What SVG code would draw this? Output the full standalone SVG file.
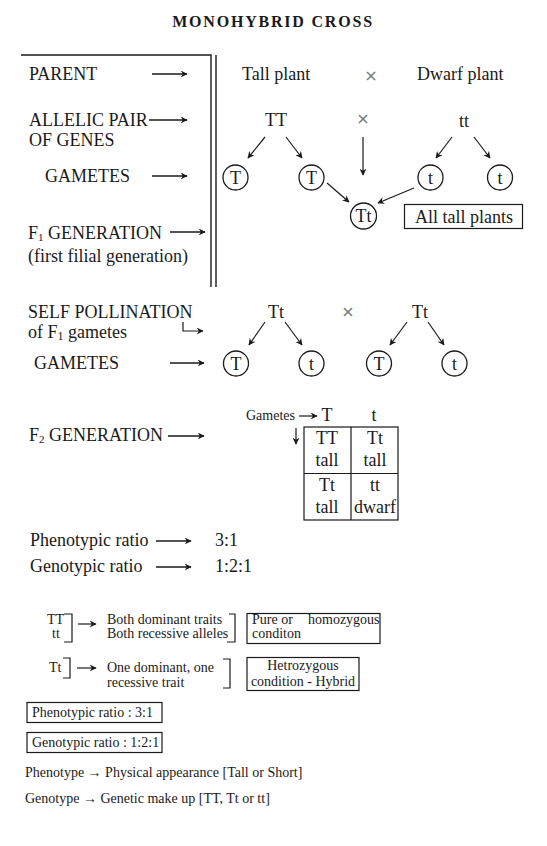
<svg xmlns="http://www.w3.org/2000/svg" width="547" height="846" viewBox="0 0 547 846">
<style>
text{font-family:"Liberation Serif","Times New Roman",serif;fill:#1a1a1a}
.t{font-size:18px}
.s{font-size:14px}
.m{font-size:16px}
.c{text-anchor:middle}
.ln{stroke:#1a1a1a;stroke-width:1.4;fill:none}
.ar{stroke:#1a1a1a;stroke-width:1.5;fill:none;marker-end:url(#ah)}
.ars{stroke:#1a1a1a;stroke-width:1.2;fill:none;marker-end:url(#ah)}
.bx{stroke:#1a1a1a;stroke-width:1.2;fill:none}
.cir{stroke:#1a1a1a;stroke-width:1.3;fill:#fff}
.x{fill:#777;font-size:16px;font-family:"DejaVu Sans",sans-serif}
</style>
<defs>
<marker id="ah" viewBox="0 0 10 10" refX="9" refY="5" markerWidth="7" markerHeight="7" markerUnits="userSpaceOnUse" orient="auto">
<path d="M0,0 L10,5 L0,10 L3,5 z" fill="#1a1a1a"/>
</marker>
</defs>

<text x="273" y="27" class="c" style="font-size:16px;font-weight:bold;letter-spacing:1.8px">MONOHYBRID CROSS</text>

<g id="frame">
<path class="ln" d="M21,55 H211 V287"/>
<path class="ln" d="M216,55 V287"/>
</g>

<g id="labels">
<text x="29" y="80" class="t">PARENT</text>
<text x="29" y="126" class="t">ALLELIC PAIR</text>
<text x="29" y="146" class="t">OF GENES</text>
<text x="45" y="182" class="t">GAMETES</text>
<text x="28" y="239" class="t">F<tspan font-size="11" dy="2">1</tspan><tspan dy="-2"> GENERATION</tspan></text>
<text x="28" y="262" class="t">(first filial generation)</text>
<text x="28" y="318" class="t">SELF POLLINATION</text>
<text x="28" y="338" class="t">of F<tspan font-size="12" dy="2">1</tspan><tspan dy="-2"> gametes</tspan></text>
<text x="34" y="369" class="t">GAMETES</text>
<text x="29" y="441" class="t">F<tspan font-size="11" dy="2">2</tspan><tspan dy="-2"> GENERATION</tspan></text>
<text x="30" y="546" class="t">Phenotypic ratio</text>
<text x="30" y="572" class="t">Genotypic ratio</text>
<text x="215" y="546" class="t">3:1</text>
<text x="215" y="572" class="t">1:2:1</text>
</g>

<g id="parents">
<text x="242" y="80" class="t">Tall plant</text>
<text x="371" y="81" class="x c">×</text>
<text x="417" y="80" class="t">Dwarf plant</text>
<text x="276" y="126" class="t c">TT</text>
<text x="363" y="124" class="x c">×</text>
<text x="464" y="127" class="t c">tt</text>
</g>

<g id="f1-gametes">
<circle cx="235.5" cy="177.5" r="12.5" class="cir"/><text x="235.5" y="183.5" class="t c">T</text>
<circle cx="311.5" cy="177.5" r="12.5" class="cir"/><text x="311.5" y="183.5" class="t c">T</text>
<circle cx="430.5" cy="177.5" r="12.5" class="cir"/><text x="430.5" y="183.5" class="t c">t</text>
<circle cx="500" cy="177.5" r="12.5" class="cir"/><text x="500" y="183.5" class="t c">t</text>
</g>

<g id="f1">
<circle cx="363.5" cy="216" r="13" class="cir"/><text x="363.5" y="222" class="t c">Tt</text>
<rect x="404.5" y="204.5" width="118" height="24" class="bx"/>
<text x="415" y="223" class="t">All tall plants</text>
</g>

<g id="self">
<text x="276" y="318" class="t c">Tt</text>
<text x="348" y="317" class="x c">×</text>
<text x="420" y="318" class="t c">Tt</text>
<circle cx="236" cy="363.5" r="12.5" class="cir"/><text x="236" y="369.5" class="t c">T</text>
<circle cx="311.5" cy="363.5" r="12.5" class="cir"/><text x="311.5" y="369.5" class="t c">t</text>
<circle cx="379" cy="363.5" r="12.5" class="cir"/><text x="379" y="369.5" class="t c">T</text>
<circle cx="454.5" cy="363.5" r="12.5" class="cir"/><text x="454.5" y="369.5" class="t c">t</text>
</g>

<g id="punnett">
<text x="246" y="420" class="s">Gametes</text>
<text x="327" y="421" class="t c">T</text>
<text x="374" y="421" class="t c">t</text>
<rect x="304" y="427" width="94" height="93" class="bx"/>
<path class="bx" d="M351,427 V520 M304,473.5 H398"/>
<text x="327" y="444" class="t c">TT</text>
<text x="327" y="466" class="t c">tall</text>
<text x="375" y="444" class="t c">Tt</text>
<text x="375" y="466" class="t c">tall</text>
<text x="327" y="491" class="t c">Tt</text>
<text x="327" y="513" class="t c">tall</text>
<text x="375" y="491" class="t c">tt</text>
<text x="375" y="513" class="t c">dwarf</text>
</g>

<g id="notes">
<text x="47" y="624" class="s">TT</text>
<text x="52" y="638" class="s">tt</text>
<path class="bx" d="M64,614 H72 V642 H64"/>
<text x="107" y="624" class="s">Both dominant traits</text>
<text x="107" y="638" class="s">Both recessive alleles</text>
<path class="bx" d="M229,614 H235 V642 H227"/>
<rect x="247" y="613.5" width="133" height="30" class="bx"/>
<text x="252" y="624" class="s">Pure or</text>
<text x="308" y="624" class="s">homozygous</text>
<text x="252" y="638" class="s">conditon</text>

<text x="49" y="672" class="s">Tt</text>
<path class="bx" d="M63,658 H70 V678 H63"/>
<text x="107" y="672" class="s">One dominant, one</text>
<text x="107" y="687" class="s">recessive trait</text>
<path class="bx" d="M223,659 H230 V688 H223"/>
<rect x="247" y="657.5" width="112" height="33" class="bx"/>
<text x="303" y="670" class="s c">Hetrozygous</text>
<text x="303" y="686" class="s c">condition - Hybrid</text>

<rect x="27" y="702.5" width="135" height="20" class="bx"/>
<text x="32" y="717" class="s">Phenotypic ratio : 3:1</text>
<rect x="27" y="732.5" width="135" height="20" class="bx"/>
<text x="32" y="747" class="s">Genotypic ratio : 1:2:1</text>
<text x="25" y="777" class="s">Phenotype → Physical appearance [Tall or Short]</text>
<text x="25" y="803" class="s">Genotype → Genetic make up [TT, Tt or tt]</text>
</g>

<g id="connectors">
<line class="ar" x1="152" y1="74" x2="187" y2="74"/>
<line class="ar" x1="149" y1="120" x2="187" y2="120"/>
<line class="ar" x1="152" y1="176" x2="187" y2="176"/>
<line class="ar" x1="170" y1="232" x2="205" y2="232"/>
<line class="ars" x1="265" y1="137" x2="248" y2="158"/>
<line class="ars" x1="286" y1="137" x2="302" y2="158"/>
<line class="ars" x1="363" y1="137" x2="363" y2="175"/>
<line class="ars" x1="452" y1="137" x2="436" y2="158"/>
<line class="ars" x1="474" y1="137" x2="490" y2="158"/>
<line class="ars" x1="327" y1="183" x2="349" y2="202"/>
<line class="ars" x1="414" y1="188" x2="378" y2="203"/>
<path class="ars" d="M183,322 V331 H203"/>
<line class="ar" x1="170" y1="363" x2="204" y2="363"/>
<line class="ars" x1="265" y1="322" x2="249" y2="345"/>
<line class="ars" x1="285" y1="322" x2="302" y2="345"/>
<line class="ars" x1="407" y1="322" x2="390" y2="345"/>
<line class="ars" x1="428" y1="322" x2="444" y2="345"/>
<line class="ar" x1="168" y1="436" x2="204" y2="436"/>
<line class="ars" x1="299" y1="416" x2="317" y2="416"/>
<line class="ars" x1="296" y1="428" x2="296" y2="444"/>
<line class="ar" x1="156" y1="541" x2="191" y2="541"/>
<line class="ar" x1="156" y1="567" x2="191" y2="567"/>
<line class="ars" x1="78" y1="624" x2="96" y2="624"/>
<line class="ars" x1="77" y1="668" x2="96" y2="668"/>
</g>
</svg>
